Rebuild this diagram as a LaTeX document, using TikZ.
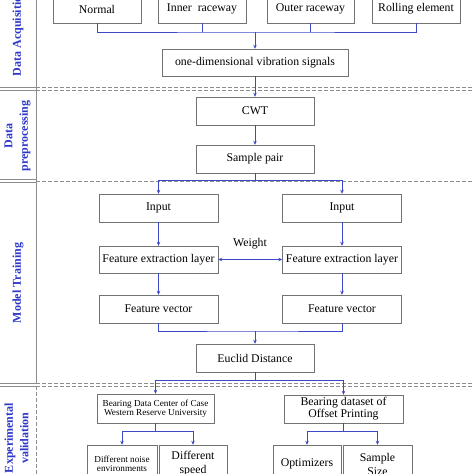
\documentclass[tikz,border=0pt]{standalone}
\usepackage{fontspec}
\setmainfont{Liberation Serif}
\usetikzlibrary{arrows.meta}

\definecolor{boxgray}{RGB}{115,115,115}
\definecolor{sepgray}{RGB}{140,140,140}
\definecolor{linkblue}{RGB}{60,72,200}
\definecolor{labblue}{RGB}{45,55,200}

\tikzset{
  box/.style={draw=boxgray, fill=white, minimum height=28pt, inner sep=1pt,
    align=center, font=\fontsize{11.8}{12}\selectfont},
  smallbox/.style={box, font=\fontsize{9.2}{9.5}\selectfont},
  link/.style={draw=linkblue, line width=0.7pt},
  arr/.style={link, -{Stealth[length=4pt,width=3.5pt]}},
  lab/.style={rotate=90, text=labblue, align=center,
    font=\bfseries\fontsize{12}{15.5}\selectfont},
  sepsolid/.style={draw=sepgray, line width=0.6pt},
  sepdash/.style={draw=sepgray, line width=0.6pt, dash pattern=on 4pt off 2pt},
}

\begin{document}
\begin{tikzpicture}[x=1pt, y=-1pt]

\useasboundingbox (0,0) rectangle (474,474);
\clip (0,0) rectangle (474,474);

% -------- section lines -----------
\draw[sepsolid] (36,0) -- (36,384);
\draw[sepdash]  (36,386) -- (36,474);

\draw[sepsolid] (0,87) -- (36,87) (0,90) -- (36,90);
\draw[sepdash]  (36,87) -- (474,87) (36,90) -- (474,90);

\draw[sepsolid] (0,179) -- (36,179) (0,182) -- (36,182);
\draw[sepdash]  (36,181) -- (474,181);

\draw[sepsolid] (0,383.5) -- (36,383.5) (0,386.5) -- (36,386.5);
\draw[sepdash]  (36,383.5) -- (474,383.5) (36,386.5) -- (474,386.5);

% -------- section labels -----------
\node[lab] (labAcq)   at (18,33) {Data Acquisition};
\node[lab] (labPre)   at (17.5,136) {Data\\preprocessing};
\node[lab] (labTrain) at (18,283) {Model Training};
\node[lab] (labVal)   at (16.5,438) {Experimental\\validation};

% -------- Data acquisition -----------
\node[box, minimum width=88pt] (normal)  at (97,9)  {Normal};
\node[box, minimum width=88pt] (inner)   at (202,9) {Inner\ \ raceway};
\node[box, minimum width=87pt] (outer)   at (310.5,9) {Outer raceway};
\node[box, minimum width=88pt] (rolling) at (416,9) {Rolling element};

\node[box, minimum width=186pt, minimum height=27pt] (signal) at (255,62.5) {one-dimensional vibration signals};

\coordinate (busA) at (255,32);
\draw[link] (normal.south) |- (busA) -| (rolling.south);
\draw[link] (inner.south) -- (inner.south |- busA);
\draw[link] (outer.south) -- (outer.south |- busA);
\draw[arr] (busA) -- (signal.north);

% -------- Data preprocessing -----------
\node[box, minimum width=118pt] (cwt)  at (255,111) {CWT};
\node[box, minimum width=118pt] (pair) at (255,159) {Sample pair};

\draw[arr] (signal.south) -- (cwt.north);
\draw[arr] (cwt.south) -- (pair.north);

% -------- Model training -----------
\node[box, minimum width=119pt] (inL) at (158.5,208) {Input};
\node[box, minimum width=119pt] (inR) at (342,208) {Input};
\node[box, minimum width=119pt, minimum height=27pt] (featL) at (158.5,259.5) {Feature extraction layer};
\node[box, minimum width=119pt, minimum height=27pt] (featR) at (342,259.5) {Feature extraction layer};
\node[box, minimum width=119pt] (vecL) at (158.5,309) {Feature vector};
\node[box, minimum width=119pt] (vecR) at (342,309) {Feature vector};
\node[box, minimum width=118pt] (euclid) at (255,358) {Euclid Distance};

\node[font=\fontsize{11.8}{12}\selectfont] (weight) at (250,244) {Weight};

\coordinate (busB) at (255,180);
\draw[link] (pair.south) -- (busB);
\draw[arr] (busB) -| (inL.north);
\draw[arr] (busB) -| (inR.north);
\draw[arr] (inL.south) -- (featL.north);
\draw[arr] (inR.south) -- (featR.north);
\draw[link, {Stealth[length=4pt,width=3.5pt]}-{Stealth[length=4pt,width=3.5pt]}] (featL.east) -- (featR.west);
\draw[arr] (featL.south) -- (vecL.north);
\draw[arr] (featR.south) -- (vecR.north);

\coordinate (busC) at (255,331);
\draw[link] (vecL.south) |- (busC) -| (vecR.south);
\draw[arr] (busC) -- (euclid.north);

% -------- Experimental validation -----------
\node[smallbox, minimum width=117pt, minimum height=29pt] (cwru) at (155.5,408.5) {Bearing Data Center of Case\\[-1pt]Western Reserve University};
\node[box, minimum width=119pt, font=\fontsize{11.8}{10.5}\selectfont] (offset) at (343.5,409) {Bearing dataset of\\Offset Printing};

\node[smallbox, minimum width=70pt, minimum height=38pt] (noise) at (122,464) {Different noise\\environments};
\node[box, minimum width=68pt, minimum height=38pt, font=\fontsize{11.8}{14}\selectfont] (speed) at (193,464) {Different\\speed};
\node[box, minimum width=68pt, minimum height=38pt] (optim) at (307,464) {Optimizers};
\node[box, minimum width=69pt, minimum height=38pt, font=\fontsize{11.8}{14}\selectfont] (size)  at (377.5,464) {Sample\\Size};

\coordinate (busD) at (255,380);
\draw[link] (euclid.south) -- (busD);
\draw[arr] (busD) -| (cwru.north);
\draw[arr] (busD) -| (offset.north);

\coordinate (busE) at (155.5,431);
\draw[link] (cwru.south) -- (busE);
\draw[arr] (busE) -| (noise.north);
\draw[arr] (busE) -| (speed.north);

\coordinate (busF) at (343.5,431);
\draw[link] (offset.south) -- (busF);
\draw[arr] (busF) -| (optim.north);
\draw[arr] (busF) -| (size.north);

\end{tikzpicture}
\end{document}
